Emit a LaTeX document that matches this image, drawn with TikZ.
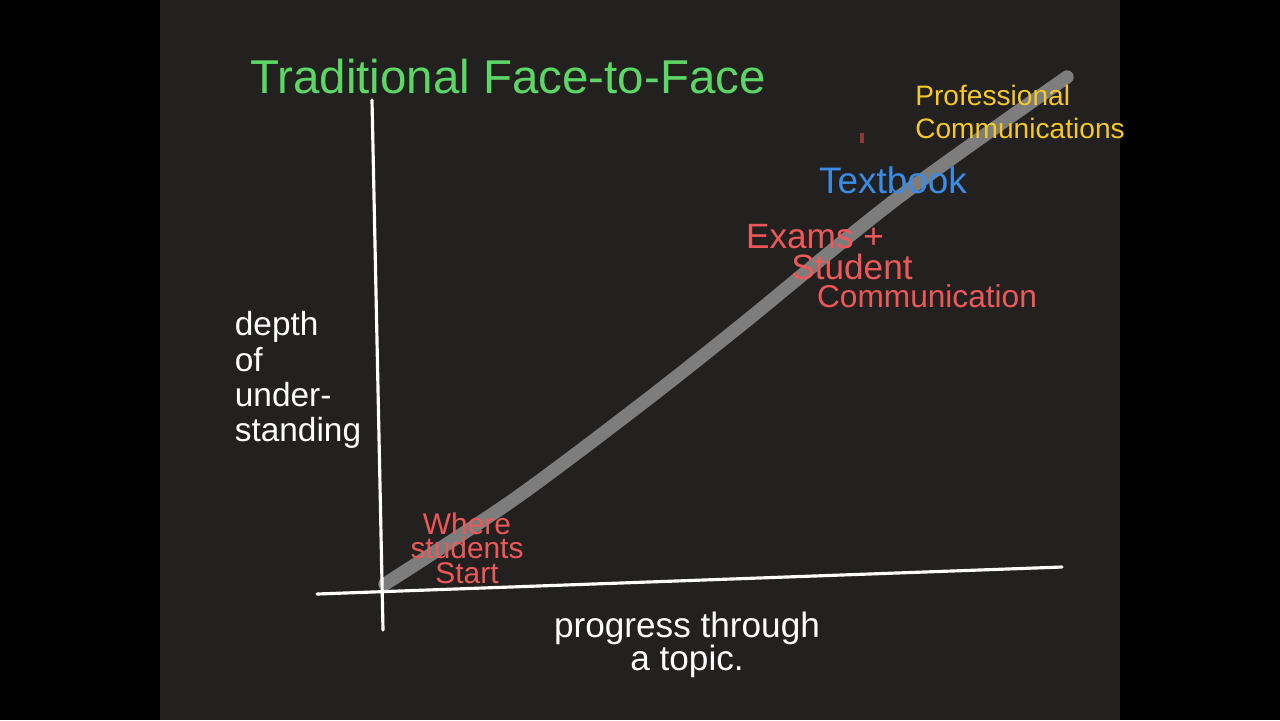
\documentclass[tikz,border=0pt]{standalone}
\usepackage{fontspec}
\setmainfont{Liberation Sans}
\usetikzlibrary{positioning}
\definecolor{panel}{RGB}{34,33,32}
\definecolor{titlegreen}{RGB}{92,214,100}
\definecolor{notered}{RGB}{238,88,88}
\definecolor{noteblue}{RGB}{58,140,230}
\definecolor{noteyellow}{RGB}{245,200,40}
\definecolor{trend}{RGB}{125,125,125}

\tikzset{
  axisline/.style={white, line width=0.9pt, line cap=round},
  trendline/.style={trend, line width=3.8pt, line cap=round, line join=round},
  lbl/.style={inner sep=0pt, align=left},
}

\begin{document}
\begin{tikzpicture}[x=0.01cm, y=-0.01cm]
 \fill[black] (0,0) rectangle (1280,720);
 \fill[panel] (160,0) rectangle (1120,720);
 \useasboundingbox (0,0) rectangle (1280,720);

 \coordinate (ytop) at (372,100);
 \coordinate (ybot) at (383,630);
 \coordinate (xleft) at (317,594);
 \coordinate (xright) at (1062,567);

 \draw[trendline] plot[smooth, tension=0.5] coordinates {(385,584) (513,500) (640,405) (745,322) (895,200) (1067,77)};
 \draw[axisline] (ytop) -- (ybot);
 \draw[axisline] (xleft) -- (xright);

 \node[lbl, titlegreen, font=\fontsize{13.5}{16}\selectfont] (title) at (508,77) {Traditional Face-to-Face};
 \node[lbl, white, font=\fontsize{9.5}{10}\selectfont] (depth) at (298,380) {depth\\of\\under-\\standing};
 \node[lbl, white, align=center, font=\fontsize{10}{9.5}\selectfont] (progress) at (687,645) {progress through\\a topic.};
 \node[lbl, notered, align=center, font=\fontsize{8.5}{7}\selectfont] (start) at (467,548) {Where\\students\\Start};
 \node[lbl, notered, font=\fontsize{10}{12}\selectfont] (exams) at (815,237) {Exams +};
 \node[lbl, notered, font=\fontsize{10}{12}\selectfont] (student) at (852,267) {Student};
 \node[lbl, notered, font=\fontsize{9}{11}\selectfont] (comm) at (927,296) {Communication};
 \node[lbl, noteblue, font=\fontsize{10.5}{12}\selectfont] (textbook) at (893,180) {Textbook};
 \node[lbl, noteyellow, font=\fontsize{8}{9.5}\selectfont] (prof) at (1020,112) {Professional\\Communications};
 \draw[notered!60!black, line width=1pt] (862,133) -- (862,143);
\end{tikzpicture}
\end{document}
